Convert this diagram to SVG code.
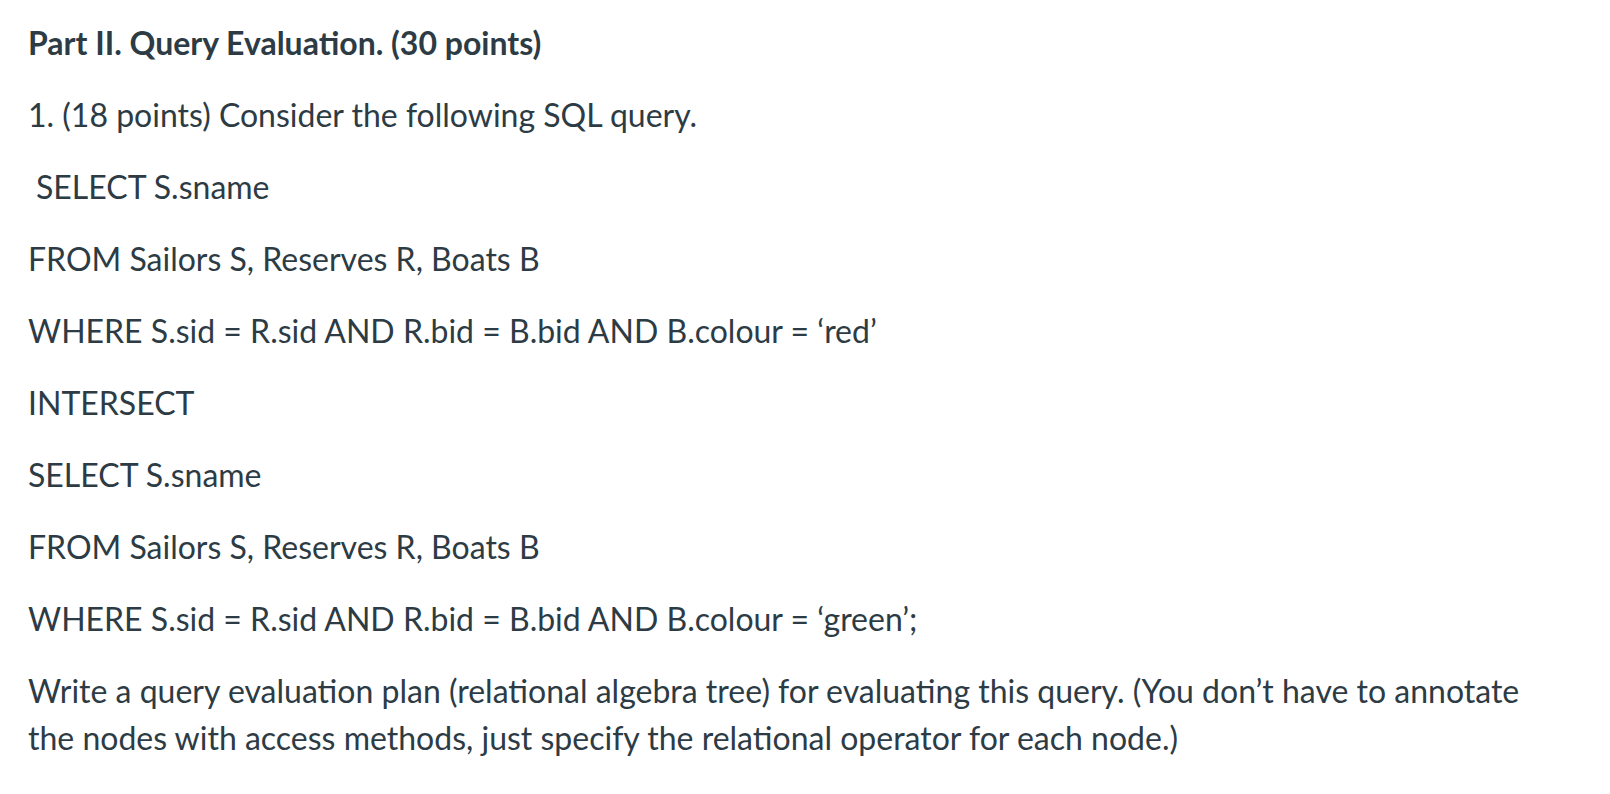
<svg xmlns="http://www.w3.org/2000/svg" width="1610" height="794" viewBox="0 0 1610 794">
<style>
text{font-family:Lato,"Open Sans",sans-serif;font-size:32px;fill:#2d3b45}
.b{font-weight:bold}
</style>
<rect width="1610" height="794" fill="#fff"/>
<text class="b" x="28" y="55">Part II. Query Evaluation. (30 points)</text>
<text x="28" y="127">1. (18 points) Consider the following SQL query.</text>
<text x="36" y="199">SELECT S.sname</text>
<text x="28" y="271">FROM Sailors S, Reserves R, Boats B</text>
<text x="28" y="343">WHERE S.sid = R.sid AND R.bid = B.bid AND B.colour = ‘red’</text>
<text x="28" y="415">INTERSECT</text>
<text x="28" y="487">SELECT S.sname</text>
<text x="28" y="559">FROM Sailors S, Reserves R, Boats B</text>
<text x="28" y="631">WHERE S.sid = R.sid AND R.bid = B.bid AND B.colour = ‘green’;</text>
<text x="28" y="703">Write a query evaluation plan (relational algebra tree) for evaluating this query. (You don’t have to annotate</text>
<text x="28" y="750">the nodes with access methods, just specify the relational operator for each node.)</text>
</svg>
